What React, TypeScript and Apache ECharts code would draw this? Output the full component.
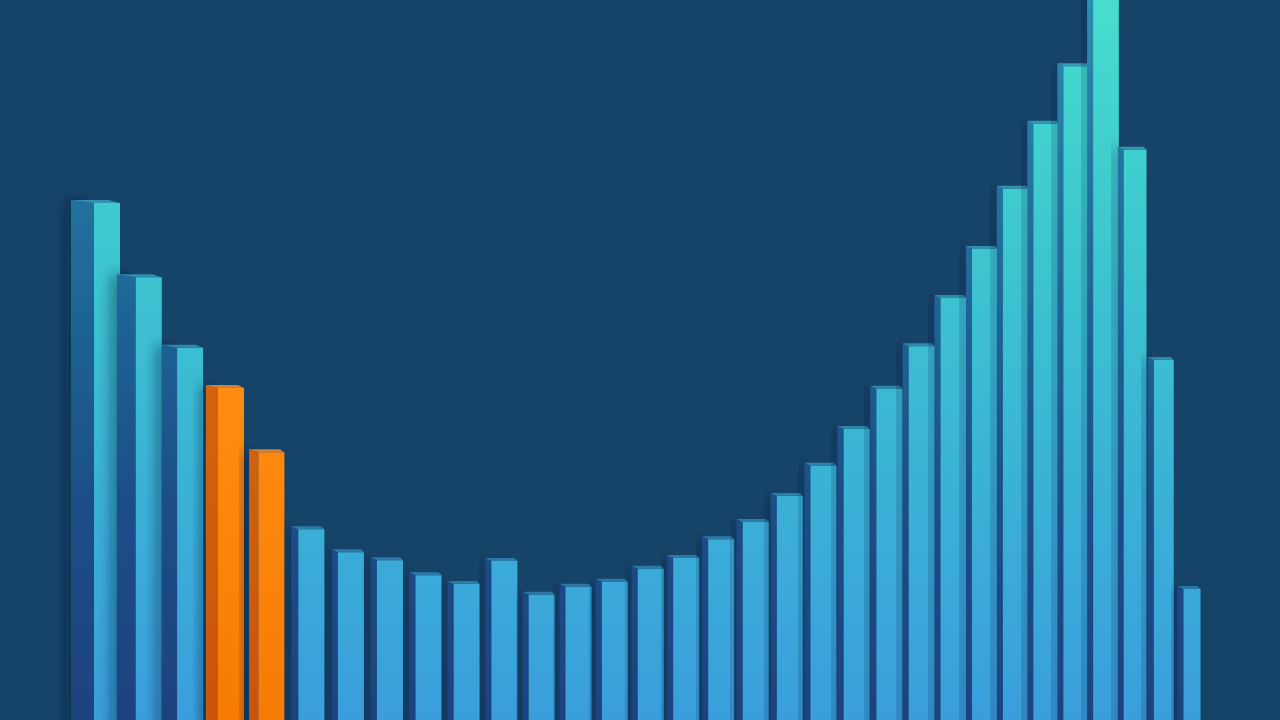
import React, { useEffect, useRef } from "react";
import * as echarts from "echarts";

// ---- data ----
const categories = [
  "01", "02", "03", "04", "05", "06", "07", "08", "09", "10", "11",
  "12", "13", "14", "15", "16", "17", "18", "19", "20", "21", "22",
  "23", "24", "25", "26", "27", "28", "29", "30", "31", "32",
];
const values = [
  71.8, 61.5, 51.7, 46.1, 37.2, 26.5, 23.3, 22.2, 20.1, 18.9, 22.1,
  17.4, 18.5, 19.2, 21.0, 22.5, 25.1, 27.5, 31.1, 35.3, 40.4, 46.0,
  51.9, 58.6, 65.4, 73.8, 82.8, 90.8, 103.0, 79.2, 50.0, 18.2,
];
const highlighted = ["04", "05"];
const yRange = [0, 100];

// ---- styling / perspective ----
const PERSPECTIVE = 0.2;
const FRONT_W = 26;

const g = (stops: [number, string][]) =>
  new echarts.graphic.LinearGradient(
    0, 0, 0, 720,
    stops.map(([offset, color]) => ({ offset, color })),
    true
  );

export default function App() {
  const ref = useRef<HTMLDivElement>(null);

  useEffect(() => {
    if (!ref.current) return;
    const chart = echarts.init(ref.current, undefined, { renderer: "svg" });
    const n = categories.length;

    const frontBlue = g([[0, "#46DDCE"], [0.35, "#3DC6CF"], [0.75, "#3AADD8"], [1, "#3A9EDC"]]);
    const sideBlue = g([[0, "#2C8DB2"], [0.3, "#216F9C"], [0.7, "#1C4E88"], [1, "#1A4280"]]);
    const topBlue = g([[0, "#3AAFC4"], [1, "#2A78AA"]]);
    const frontOrange = g([[0, "#FF9A2A"], [0.6, "#FF8A10"], [1, "#F67C04"]]);
    const sideOrange = g([[0, "#E0701A"], [1, "#C9560A"]]);

    const renderItem = (params: any, api: any) => {
      const i = api.value(0);
      const v = api.value(1);
      const base = api.coord([i, 0]);
      const topPt = api.coord([i, v]);
      const p0 = api.coord([0, 0])[0];
      const pN = api.coord([n - 1, 0])[0];
      const u = (base[0] - p0) / (pN - p0);
      const w = (1 + PERSPECTIVE) * u - PERSPECTIVE * u * u;
      const cx = p0 + (pN - p0) * w;
      const fw = FRONT_W - Math.max(0, u - 0.9) * 90;
      const L = cx - fw / 2;
      const R = L + fw;
      const top = topPt[1];
      const bottom = base[1] + 10;
      const sw = 6 + 17 * Math.pow(Math.max(0, 1 - i / 6), 1.5);
      const hi = highlighted.includes(categories[i]);
      const rise = 3;

      return {
        type: "group",
        children: [
          {
            type: "polygon",
            shape: { points: [[L - sw, top - rise], [L, top], [L, bottom], [L - sw, bottom]] },
            style: {
              fill: hi ? sideOrange : sideBlue,
              shadowBlur: 14,
              shadowOffsetX: -5,
              shadowColor: "rgba(6,22,45,0.45)",
            },
          },
          {
            type: "rect",
            shape: { x: L, y: top, width: fw, height: bottom - top },
            style: { fill: hi ? frontOrange : frontBlue },
          },
          {
            type: "polygon",
            shape: {
              points: [[L - sw, top - rise], [R - sw * 0.5, top - rise], [R, top], [L, top]],
            },
            style: { fill: hi ? "#F58A2A" : topBlue, opacity: 0.85 },
          },
        ],
      };
    };

    chart.setOption({
      animation: false,
      backgroundColor: "#164469",
      grid: { left: 89.5, right: 70.5, top: 0, bottom: 0 },
      xAxis: {
        type: "category",
        data: categories,
        show: false,
      },
      yAxis: {
        type: "value",
        min: yRange[0],
        max: yRange[1],
        show: false,
      },
      series: [
        {
          type: "custom",
          renderItem,
          clip: false,
          data: values.map((v, i) => [i, v]),
        },
      ],
    });

    return () => chart.dispose();
  }, []);

  return (
    <div
      ref={ref}
      style={{ position: "fixed", left: 0, top: 0, width: 1280, height: 720 }}
    />
  );
}
